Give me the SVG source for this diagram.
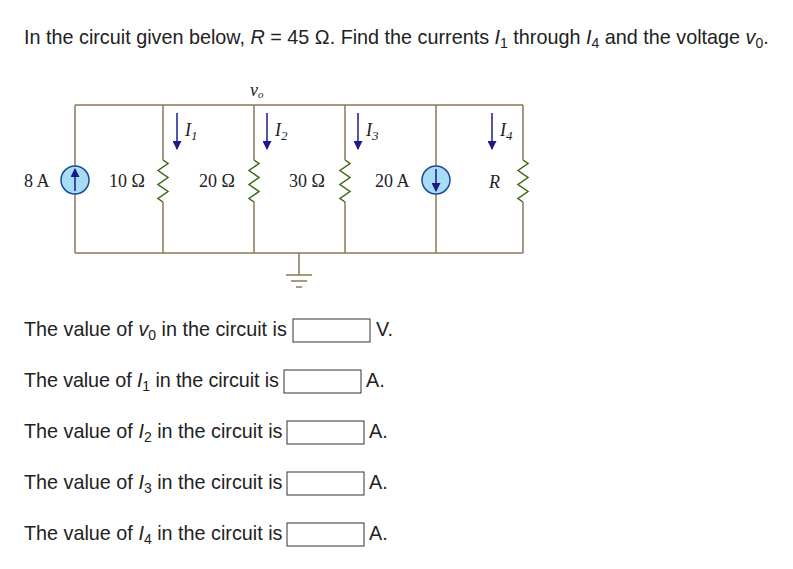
<svg xmlns="http://www.w3.org/2000/svg" width="793" height="569" viewBox="0 0 793 569">
<defs>
<style>
.w{stroke:#8a7a5a;stroke-width:1.5;fill:none}
.r{stroke:#3a6a10;stroke-width:1.5;fill:none}
.t{font-family:"Liberation Sans",Arial,sans-serif;font-size:19.8px;fill:#222}
.c{font-family:"Liberation Serif",serif;font-size:18px;fill:#222}
.ci{font-family:"Liberation Serif",serif;font-size:18px;font-style:italic;fill:#222}
.src{fill:#a8dcf4;stroke:#1a4a9a;stroke-width:1.5}
.box{fill:#fff;stroke:#333;stroke-width:1}
.ar{stroke:#1a1a8a;stroke-width:1.5}
</style>
<marker id="ah" viewBox="0 0 10 10" refX="9" refY="5" markerWidth="9" markerHeight="6" orient="auto" markerUnits="strokeWidth"><path d="M0,0 L10,5 L0,10 z" fill="#1a1a8a"/></marker>
</defs>
<rect width="793" height="569" fill="#fff"/>
<text class="t" x="24" y="44">In the circuit given below, <tspan font-style="italic">R</tspan> = 45 Ω. Find the currents <tspan font-style="italic">I</tspan><tspan font-size="14" dy="4">1</tspan><tspan dy="-4"> through </tspan><tspan font-style="italic">I</tspan><tspan font-size="14" dy="4">4</tspan><tspan dy="-4"> and the voltage </tspan><tspan font-style="italic">v</tspan><tspan font-size="14" dy="4">0</tspan><tspan dy="-4">.</tspan></text>
<g id="connectors">
<path class="w" d="M75,105 H523 M75,253 H523 M75,105 V166 M75,194 V253 M163,105 V160 M163,202 V253 M254,105 V160 M254,202 V253 M345,105 V160 M345,202 V253 M436,105 V166 M436,194 V253 M523,105 V160 M523,202 V253 M299,253 V275"/>
<path class="w" d="M286,275 H312 M291,281 H307 M296,287 H302"/>
</g>
<g id="src8"><circle class="src" cx="75" cy="180" r="14"/><line class="ar" x1="75" y1="191" x2="75" y2="169" marker-end="url(#ah)"/><text class="c" x="24" y="187">8 A</text></g>
<g id="src20"><circle class="src" cx="436" cy="180" r="14"/><line class="ar" x1="436" y1="169" x2="436" y2="191" marker-end="url(#ah)"/><text class="c" x="375" y="187">20 A</text></g>
<g id="r10"><path class="r" d="M163,160 l5,3.5 l-10,7 l10,7 l-10,7 l10,7 l-10,7 l5,3.5"/><text class="c" x="109" y="187">10 Ω</text></g>
<g id="r20"><path class="r" d="M254,160 l5,3.5 l-10,7 l10,7 l-10,7 l10,7 l-10,7 l5,3.5"/><text class="c" x="199" y="187">20 Ω</text></g>
<g id="r30"><path class="r" d="M345,160 l5,3.5 l-10,7 l10,7 l-10,7 l10,7 l-10,7 l5,3.5"/><text class="c" x="289" y="187">30 Ω</text></g>
<g id="rR"><path class="r" d="M523,160 l5,3.5 l-10,7 l10,7 l-10,7 l10,7 l-10,7 l5,3.5"/><text class="ci" x="489" y="188" font-size="21">R</text></g>
<g id="currents">
<line class="ar" x1="177" y1="113" x2="177" y2="149" marker-end="url(#ah)"/><text class="ci" x="185" y="136">I<tspan font-size="13" dy="4">1</tspan></text>
<line class="ar" x1="267" y1="113" x2="267" y2="149" marker-end="url(#ah)"/><text class="ci" x="275" y="136">I<tspan font-size="13" dy="4">2</tspan></text>
<line class="ar" x1="358" y1="113" x2="358" y2="149" marker-end="url(#ah)"/><text class="ci" x="366" y="136">I<tspan font-size="13" dy="4">3</tspan></text>
<line class="ar" x1="492" y1="113" x2="492" y2="149" marker-end="url(#ah)"/><text class="ci" x="500" y="136">I<tspan font-size="13" dy="4">4</tspan></text>
<text class="ci" x="250" y="96" font-size="15">v<tspan font-size="11" dy="2">o</tspan></text>
</g>
<g id="answers">
<text class="t" x="24" y="336">The value of <tspan font-style="italic">v</tspan><tspan font-size="14" dy="4">0</tspan><tspan dy="-4"> in the circuit is</tspan></text>
<rect class="box" x="293" y="319" width="77" height="23"/><text class="t" x="376" y="336">V.</text>
<text class="t" x="24" y="387" textLength="255">The value of <tspan font-style="italic">I</tspan><tspan font-size="14" dy="4">1</tspan><tspan dy="-4"> in the circuit is</tspan></text>
<rect class="box" x="284" y="370" width="77" height="23"/><text class="t" x="366" y="387">A.</text>
<text class="t" x="24" y="438">The value of <tspan font-style="italic">I</tspan><tspan font-size="14" dy="4">2</tspan><tspan dy="-4"> in the circuit is</tspan></text>
<rect class="box" x="287" y="421" width="77" height="23"/><text class="t" x="369" y="438">A.</text>
<text class="t" x="24" y="489">The value of <tspan font-style="italic">I</tspan><tspan font-size="14" dy="4">3</tspan><tspan dy="-4"> in the circuit is</tspan></text>
<rect class="box" x="287" y="472" width="77" height="23"/><text class="t" x="369" y="489">A.</text>
<text class="t" x="24" y="540">The value of <tspan font-style="italic">I</tspan><tspan font-size="14" dy="4">4</tspan><tspan dy="-4"> in the circuit is</tspan></text>
<rect class="box" x="287" y="523" width="77" height="23"/><text class="t" x="369" y="540">A.</text>
</g>
</svg>
